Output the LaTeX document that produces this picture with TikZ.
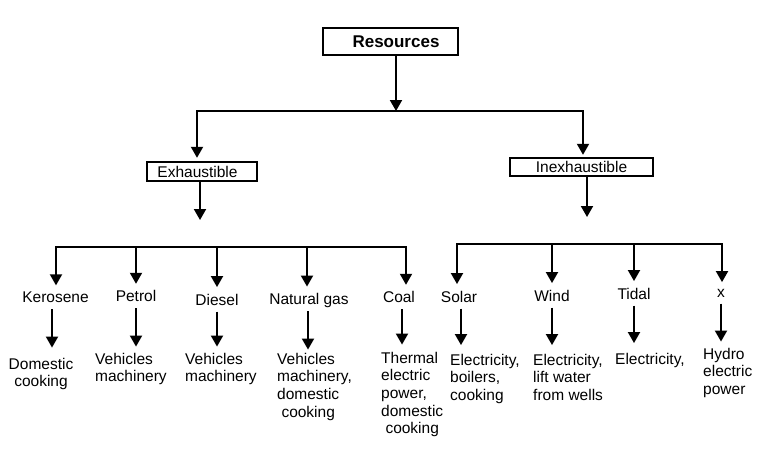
\documentclass[tikz,border=0pt]{standalone}
\usepackage{fontspec}
\setmainfont{Liberation Sans}
\usetikzlibrary{arrows.meta}
\begin{document}
\begin{tikzpicture}[x=1pt,y=-1pt,
  every node/.style={font=\fontsize{15.5}{17.7}\selectfont},
  box/.style={draw,line width=2.4pt,inner sep=0pt},
  lab/.style={anchor=base,inner xsep=0pt,inner ysep=6.5pt,text depth=0pt},
  use/.style={anchor=base west,align=left,inner xsep=0pt,inner ysep=7pt},
  ln/.style={line width=1.9pt},
  arr/.style={ln,-{Triangle[width=12pt,length=11pt]}},
  dbl/.style={ln,{Triangle[width=12pt,length=11pt]}-{Triangle[width=12pt,length=11pt]}}]
\useasboundingbox (0,0) rectangle (770,458);
\fill[white] (0,0) rectangle (770,458);
% boxes
\node[box,minimum width=135pt,minimum height=27pt,font=\fontsize{17}{20}\selectfont\bfseries] (res) at (390.5,41.5) {\hspace*{11pt}Resources};
\node[box,minimum width=110pt,minimum height=19pt] (exh) at (202,171.5) {Exhaustible\hspace*{9pt}};
\node[box,minimum width=143pt,minimum height=18pt] (inex) at (581.5,167) {Inexhaustible};
% coordinates
\coordinate (tm) at (396,111);
\coordinate (tl) at (197,111);
\coordinate (tr) at (583,111);
\coordinate (eb) at (200,220);
\coordinate (ib) at (587,217);
\coordinate (l1) at (56,247);
\coordinate (l2) at (136,247);
\coordinate (l3) at (217,247);
\coordinate (l4) at (307,247);
\coordinate (l5) at (406,247);
\coordinate (r1) at (457,244);
\coordinate (r2) at (552,244);
\coordinate (r3) at (634,244);
\coordinate (r4) at (722,244);
\coordinate (s1) at (52,0);
\coordinate (s2) at (136,0);
\coordinate (s3) at (217,0);
\coordinate (s4) at (308,0);
\coordinate (s5) at (402,0);
\coordinate (s6) at (461,0);
\coordinate (s7) at (552,0);
\coordinate (s8) at (634,0);
\coordinate (s9) at (721,0);
% labels
\node[lab] (ker) at (55.5,302.7) {Kerosene};
\node[lab] (pet) at (136,301.7) {Petrol};
\node[lab] (die) at (217,305) {Diesel};
\node[lab] (ngs) at (309,304.5) {Natural gas};
\node[lab] (coa) at (399,302.7) {Coal};
\node[lab] (sol) at (459,302) {Solar};
\node[lab] (win) at (552,301) {Wind};
\node[lab] (tid) at (634,299) {Tidal};
\node[lab] (xx) at (721,297) {x};
% uses (anchored at the baseline of their last line)
\node[use,anchor=base,align=center,inner ysep=10pt] (dom) at (41,386.7) {Domestic\\cooking};
\node[use,inner ysep=6pt] (veh1) at (95,381.7) {Vehicles\\machinery};
\node[use,inner ysep=6pt] (veh2) at (185,381.7) {Vehicles\\machinery};
\node[use,inner ysep=3pt] (vng) at (277,417.1) {Vehicles\\machinery,\\domestic\\\hspace*{4.3pt}cooking};
\node[use] (thr) at (381,433.8) {Thermal\\electric\\power,\\domestic\\\hspace*{4.3pt}cooking};
\node[use,inner ysep=8.5pt] (el1) at (450,400.4) {Electricity,\\boilers,\\cooking};
\node[use,inner ysep=8.5pt] (el2) at (533,400.4) {Electricity,\\lift water\\from wells};
\node[use,inner ysep=9.5pt] (el3) at (615,364) {Electricity,};
\node[use,inner ysep=6pt] (hyd) at (703,394.4) {Hydro\\electric\\power};
% top connectors
\draw[arr] (res.south -| tm) -- (tm);
\draw[dbl,shorten <=3pt,shorten >=2pt] (tl |- exh.north) -- (tl) -- (tr) -- (tr |- inex.north);
\draw[arr] (exh.south -| eb) -- (eb);
\draw[arr] (inex.south -| ib) -- (ib);
% left bus
\draw[dbl] (l1 |- ker.north) -- (l1) -- (l5) -- (l5 |- coa.north);
\draw[arr] (l2) -- (l2 |- pet.north);
\draw[arr] (l3) -- (l3 |- die.north);
\draw[arr] (l4) -- (l4 |- ngs.north);
% right bus
\draw[dbl] (r1 |- sol.north) -- (r1) -- (r4) -- (r4 |- xx.north);
\draw[arr] (r2) -- (r2 |- win.north);
\draw[arr] (r3) -- (r3 |- tid.north);
% second arrows
\draw[arr] (s1 |- ker.south) -- (s1 |- dom.north);
\draw[arr] (s2 |- pet.south) -- (s2 |- veh1.north);
\draw[arr] (s3 |- die.south) -- (s3 |- veh2.north);
\draw[arr] (s4 |- ngs.south) -- (s4 |- vng.north);
\draw[arr] (s5 |- coa.south) -- (s5 |- thr.north);
\draw[arr] (s6 |- sol.south) -- (s6 |- el1.north);
\draw[arr] (s7 |- win.south) -- (s7 |- el2.north);
\draw[arr] (s8 |- tid.south) -- (s8 |- el3.north);
\draw[arr] (s9 |- xx.south) -- (s9 |- hyd.north);
\end{tikzpicture}
\end{document}
